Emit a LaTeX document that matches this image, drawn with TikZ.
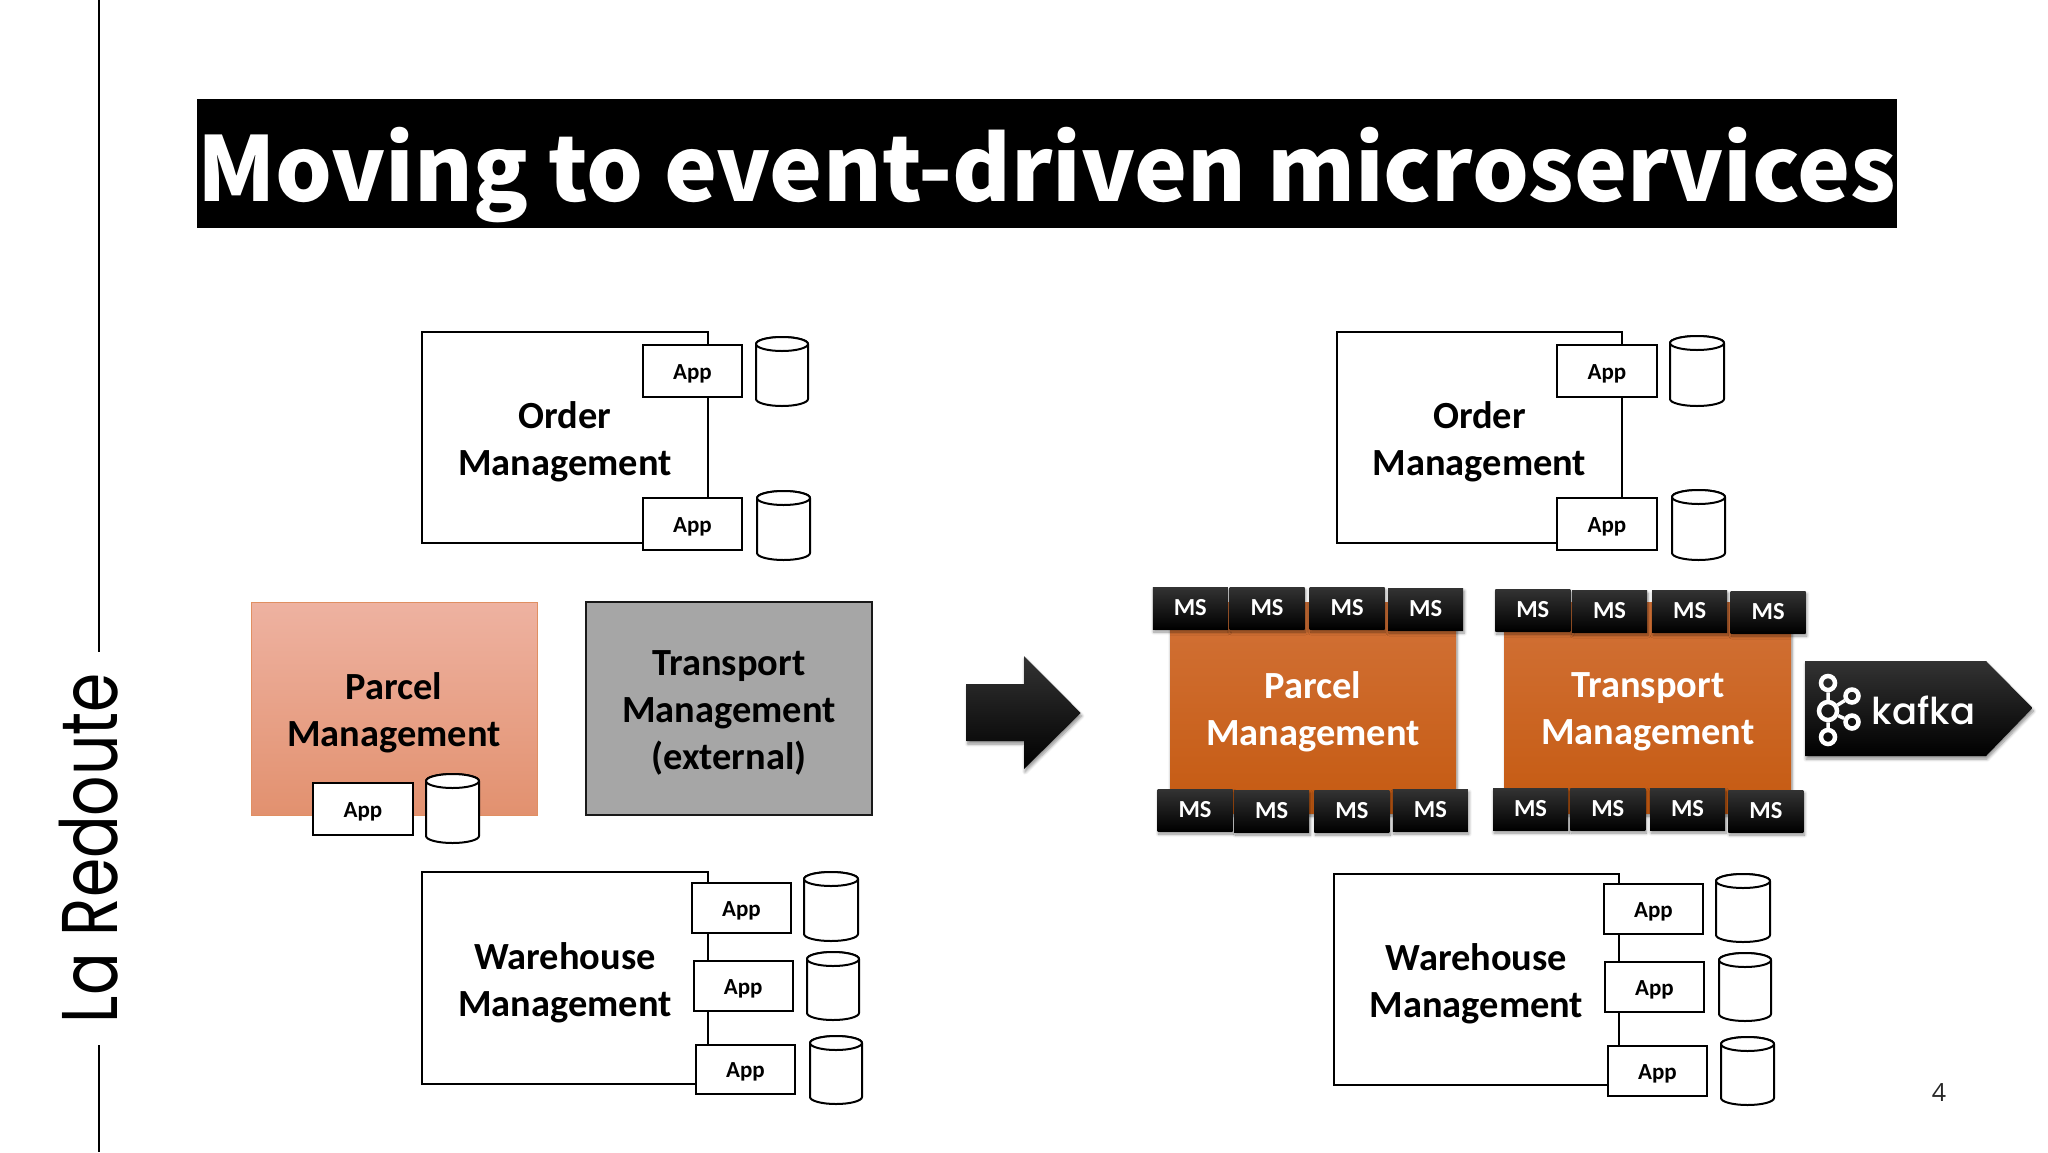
\documentclass[tikz,border=0pt]{standalone}
\usepackage{fontspec}
\setmainfont{Carlito}
\newfontfamily\titlefont{Noto Sans CJK SC}
\newfontfamily\logofont[FakeStretch=0.8]{Poppins}
\newfontfamily\kafkafont{Poppins Medium}
\newfontfamily\pagefont{Open Sans}
\usetikzlibrary{shadows,shadows.blur,calc}
\definecolor{salmontop}{HTML}{EEB2A1}
\definecolor{salmonbot}{HTML}{E2916F}
\definecolor{salmonline}{HTML}{E08F62}
\definecolor{orangetop}{HTML}{D27238}
\definecolor{orangemid}{HTML}{C8621C}
\definecolor{orangebot}{HTML}{C55A11}
\definecolor{grayfill}{HTML}{A6A6A6}
\tikzset{
  softshadow/.style={blur shadow={shadow blur steps=6,shadow xshift=1pt,shadow yshift=-3pt,shadow opacity=45,shadow blur radius=3pt}},
  gloss/.style={top color=black!80,middle color=black,bottom color=black},
  labeltext/.style={font=\bfseries\fontsize{38.4}{47.3}\selectfont,align=center,inner sep=0pt,yshift=-4.5pt},
  titletext/.style={text=white,inner sep=0pt,yshift=-12pt,font=\titlefont\bfseries\fontsize{89.4}{100}\selectfont},
  apptext/.style={font=\bfseries\fontsize{23}{26}\selectfont,inner sep=0pt,yshift=-2.5pt},
  sysbox/.style={rectangle,draw=black,line width=2pt,fill=white},
  appbox/.style={rectangle,draw=black,line width=2pt,fill=white,inner sep=0pt},
  msbox/.style={rectangle,gloss,softshadow,text=white,font=\bfseries\fontsize{24.5}{28}\selectfont,inner sep=0pt},
  salmonbox/.style={rectangle,draw=salmonline,line width=1pt,top color=salmontop,bottom color=salmonbot},
  graybox/.style={rectangle,draw=black!90,line width=2.5pt,fill=grayfill},
  orangebox/.style={rectangle,top color=orangetop,middle color=orangemid,bottom color=orangebot,softshadow},
  cylline/.style={draw=black,line width=2pt,fill=white,line join=round},
  ring/.style={circle,draw=white,line width=4.5pt,inner sep=0pt},
  spoke/.style={draw=white,line width=3.5pt}
}
% name, style, x0, y0, x1, y1, text
\newcommand\bx[7]{\node[#2,minimum width={(#5-#3)*1pt},minimum height={(#6-#4)*1pt}] (#1) at ({(#3+#5)/2},{(#4+#6)/2}) {#7};}
% labelled box: name, style, x0, y0, x1, y1, text, text colour
\newcommand\lbx[8]{\node[#2,minimum width={(#5-#3)*1pt},minimum height={(#6-#4)*1pt},label={[labeltext,text=#8]center:{#7}}] (#1) at ({(#3+#5)/2},{(#4+#6)/2}) {};}
\newcommand\app[5]{\bx{#1}{appbox,label={[apptext]center:App}}{#2}{#3}{#4}{#5}{}}
\newcommand\cyl[4]{%
  \pgfmathsetmacro\crx{(#3-#1)/2}
  \path[cylline] (#1,#2+7) -- (#1,#4-7) arc[start angle=180,end angle=360,x radius=\crx pt,y radius=7pt] -- (#3,#2+7) arc[start angle=0,end angle=180,x radius=\crx pt,y radius=7pt] -- cycle;
  \path[cylline] ({(#1+#3)/2},#2+7) ellipse[x radius=\crx pt,y radius=7pt];
}
\newcommand\ms[3]{\bx{#1}{msbox}{#2}{#3}{#2+75}{#3+42}{MS}}
\begin{document}
\begin{tikzpicture}[x=1pt,y=-1pt]
\useasboundingbox (0,0) rectangle (2048,1152);
% side rule and logo
\coordinate (ruleA) at (99,0); \coordinate (ruleB) at (99,652);
\coordinate (ruleC) at (99,1045); \coordinate (ruleD) at (99,1152);
\draw[line width=2.4pt,black] (ruleA) -- (ruleB) (ruleC) -- (ruleD);
\node[rotate=90,anchor=base,inner sep=0pt,font=\logofont\fontsize{79}{90}\selectfont] (logo) at (117,848) {La Redoute};
% title
\bx{titlebar}{rectangle,fill=black,inner sep=0pt,label={[titletext]center:{Moving to event-driven microservices}}}{196.5}{98.5}{1897}{228}{}
% left: order
\lbx{orderL}{sysbox}{422}{332}{708}{543}{Order\\Management}{black}
\app{orderLa}{643}{345}{742}{397}
\app{orderLb}{643}{498}{742}{550}
\cyl{756}{337}{808}{406}
\cyl{757}{491}{810}{560}
% left: parcel
\lbx{parcelL}{salmonbox}{251}{602}{537}{815}{Parcel\\Management}{black}
\app{parcelLa}{313}{783}{413}{835}
\cyl{426}{774}{479}{843}
% left: transport
\lbx{transL}{graybox}{586}{602}{872}{815}{Transport\\Management\\(external)}{black}
% left: warehouse
\lbx{wareL}{sysbox}{422}{872}{708}{1084}{Warehouse\\Management}{black}
\app{wareLa}{692}{883}{791}{933}
\app{wareLb}{693.5}{961}{793}{1011}
\app{wareLc}{696}{1045}{795}{1094}
\cyl{804}{872}{858}{941}
\cyl{807}{952}{859}{1020}
\cyl{810}{1036}{862}{1104}
% big arrow
\path[gloss,softshadow] (966.7,684) -- (1024,684) -- (1024,656) -- (1080.7,713) -- (1024,769) -- (1024,741) -- (966.7,741) -- cycle;
% right: order
\lbx{orderR}{sysbox}{1337}{332}{1622}{543}{Order\\Management}{black}
\app{orderRa}{1557}{345}{1657}{397}
\app{orderRb}{1557}{498}{1657}{550}
\cyl{1670}{336}{1724}{406}
\cyl{1672}{490}{1725}{560}
% right: parcel
\lbx{parcelR}{orangebox}{1170}{602}{1456}{813}{Parcel\\Management}{white}
\ms{pa}{1152.8}{587} \ms{pb}{1229.5}{587} \ms{pc}{1309.7}{587} \ms{pd}{1388.2}{588}
\ms{pe}{1157.5}{789} \ms{pf}{1234.2}{790} \ms{pg}{1314.4}{790} \ms{ph}{1392.9}{789}
% right: transport
\lbx{transR}{orangebox}{1504.7}{602}{1791}{813}{Transport\\Management}{white}
\ms{ta}{1495.3}{589} \ms{tb}{1572}{590} \ms{tc}{1652.2}{590} \ms{td}{1730.7}{591}
\ms{te}{1493}{788} \ms{tf}{1570.3}{788} \ms{tg}{1650}{788} \ms{th}{1728.4}{790}
% kafka
\path[gloss,softshadow] (1805,661) -- (1986,661) -- (2032.5,708) -- (1986,756) -- (1805,756) -- cycle;
\node[ring,minimum size=14pt] (k1) at (1828,683) {};
\node[ring,minimum size=18pt] (k2) at (1828,711) {};
\node[ring,minimum size=13pt] (k3) at (1852,696) {};
\node[ring,minimum size=13pt] (k4) at (1852,722) {};
\node[ring,minimum size=14pt] (k5) at (1828,737) {};
\draw[spoke] (k2) -- (k1) (k2) -- (k3) (k2) -- (k4) (k2) -- (k5);
\node[anchor=base west,inner sep=0pt,text=white,font=\kafkafont\fontsize{37}{40}\selectfont] (kafka) at (1871.5,724) {kafka};
% right: warehouse
\lbx{wareR}{sysbox}{1334}{874}{1619}{1085}{Warehouse\\Management}{black}
\app{wareRa}{1604}{884}{1703}{934}
\app{wareRb}{1605}{962}{1704}{1012}
\app{wareRc}{1608}{1046}{1707}{1096}
\cyl{1716}{874}{1770}{942}
\cyl{1719}{953}{1771}{1021}
\cyl{1721}{1037}{1774}{1105}
% page number
\node[inner sep=0pt,text=black!85,font=\pagefont\fontsize{25}{27}\selectfont] (pagenum) at (1939,1093) {4};
\end{tikzpicture}
\end{document}
